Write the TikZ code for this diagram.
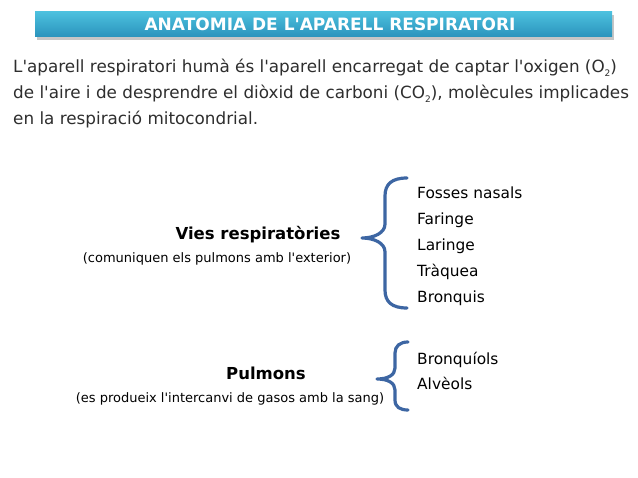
\documentclass[tikz,border=0pt]{standalone}
\usepackage{fontspec}
\setmainfont{DejaVu Sans}
\usetikzlibrary{shadows}
\definecolor{barTop}{HTML}{4CC0DE}
\definecolor{barBot}{HTML}{2A93BC}
\definecolor{braceBlue}{HTML}{3D66A3}
\definecolor{txt}{HTML}{2E2E2E}
\newcommand{\q}{\textquotesingle}
\newcommand{\subtwo}{\raisebox{-0.35ex}{\fontsize{9}{10}\selectfont 2}}
\begin{document}
\begin{tikzpicture}[x=1pt,y=-1pt,
  para/.style={anchor=base west,inner sep=0pt,text=txt,font=\fontsize{16.8}{19}\selectfont},
  item/.style={anchor=base west,inner sep=0pt,text=black,font=\fontsize{15.4}{18}\selectfont},
  head/.style={anchor=base,inner sep=0pt,text=black,font=\bfseries\fontsize{16.5}{20}\selectfont},
  sub/.style={anchor=base,inner sep=0pt,text=black,font=\fontsize{13}{16}\selectfont},
  bracepath/.style={draw=braceBlue,line width=3.2pt,line cap=round,line join=round}]
\useasboundingbox (0,0) rectangle (638,478);
\fill[white] (0,0) rectangle (638,478);
% title bar
\fill[gray!45] (37,15) rectangle (614,40);
\shade[top color=barTop,bottom color=barBot] (35,12) rectangle (612,37);
\node[anchor=center,text=white,font=\bfseries\fontsize{17}{20}\selectfont,inner sep=0pt] (title) at (330,24.5) {ANATOMIA DE L\q APARELL RESPIRATORI};
% paragraph
\node[para] (p1) at (13,73) {L\q aparell respiratori humà és l\q aparell encarregat de captar l\q oxigen (O\subtwo)};
\node[para] (p2) at (13,99) {de l\q aire i de desprendre el diòxid de carboni (CO\subtwo), molècules implicades};
\node[para] (p3) at (13,125) {en la respiració mitocondrial.};
% group 1
\node[head] (vies) at (258,240) {Vies respiratòries};
\node[sub] (viessub) at (217,263) {(comuniquen els pulmons amb l\q exterior)};
\path[bracepath] (407,178) .. controls (392,178) and (385,184) .. (385,196)
  -- (385,224) .. controls (385,233) and (374,238) .. (362,238)
  .. controls (374,238) and (385,243) .. (385,252)
  -- (385,290) .. controls (385,302) and (392,308) .. (407,308);
\node[item] (i1) at (417,199) {Fosses nasals};
\node[item] (i2) at (417,225) {Faringe};
\node[item] (i3) at (417,251) {Laringe};
\node[item] (i4) at (417,277) {Tràquea};
\node[item] (i5) at (417,303) {Bronquis};
% group 2
\node[head] (pul) at (266,380) {Pulmons};
\node[sub] (pulsub) at (230,403) {(es produeix l\q intercanvi de gasos amb la sang)};
\path[bracepath] (408,342) .. controls (400,342) and (395,346) .. (395,353)
  -- (395,368) .. controls (395,375) and (388,379) .. (377,379)
  .. controls (388,379) and (395,383) .. (395,390)
  -- (395,400) .. controls (395,407) and (400,410) .. (408,410);
\node[item] (j1) at (417,365) {Bronquíols};
\node[item] (j2) at (417,390) {Alvèols};
\end{tikzpicture}
\end{document}
